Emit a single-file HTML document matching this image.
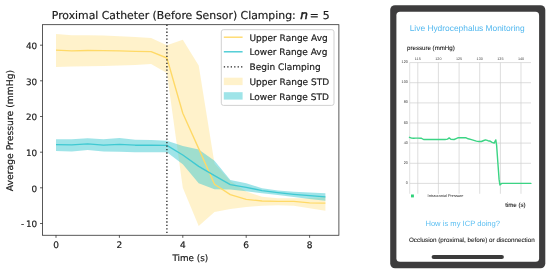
<!DOCTYPE html>
<html><head><meta charset="utf-8"><title>Hydrocephalus monitoring figure</title>
<style>
html,body{margin:0;padding:0;background:#fff;}
body{width:550px;height:274px;position:relative;overflow:hidden;filter:blur(0.35px);font-family:"Liberation Sans",sans-serif;}
svg text{white-space:pre;text-rendering:geometricPrecision;}
#chart text{stroke:#1a1a1a;stroke-width:0.18px;}
#phone text.k{stroke:#222;stroke-width:0.1px;}
#phone text.b{stroke:#4db5ee;stroke-width:0.12px;}
</style></head><body>
<svg id="chart" width="350" height="274" viewBox="0 0 350 274" style="position:absolute;left:0;top:0">
<g font-family="'DejaVu Sans', 'Liberation Sans', sans-serif" fill="#1a1a1a">
<polygon points="56.0,34.1 71.8,35.2 87.7,35.2 103.5,35.5 119.4,36.3 135.2,37.0 151.1,38.0 166.9,45.2 182.8,39.8 198.7,65.5 214.5,163.6 230.3,181.1 246.2,191.4 262.0,196.8 277.9,198.2 293.8,198.2 309.6,198.2 325.4,196.8 325.4,210.7 309.6,208.2 293.8,205.7 277.9,205.3 262.0,205.7 246.2,207.1 230.3,208.9 214.5,212.1 198.7,226.0 182.8,187.8 166.9,73.0 151.1,64.1 135.2,65.1 119.4,65.5 103.5,65.9 87.7,66.2 71.8,66.6 56.0,66.9" fill="#FFD966" fill-opacity="0.34"/>
<polygon points="56.0,139.2 71.8,139.3 87.7,138.3 103.5,139.3 119.4,137.9 135.2,139.7 151.1,140.1 166.9,140.8 182.8,146.1 198.7,149.5 214.5,160.7 230.3,180.0 246.2,183.2 262.0,188.2 277.9,190.6 293.8,191.8 309.6,192.5 325.4,193.2 325.4,200.7 309.6,198.9 293.8,197.1 277.9,195.0 262.0,193.2 246.2,191.2 230.3,189.6 214.5,189.3 198.7,183.2 182.8,164.3 166.9,152.2 151.1,152.2 135.2,152.2 119.4,151.8 103.5,151.5 87.7,150.0 71.8,151.5 56.0,151.1" fill="#3FC9D2" fill-opacity="0.5"/>
<polyline points="56.0,50.2 71.8,50.9 87.7,50.5 103.5,50.7 119.4,50.9 135.2,51.4 151.1,51.6 166.9,58.0 182.8,113.3 198.7,148.6 214.5,184.3 230.3,194.6 246.2,199.3 262.0,201.0 277.9,201.4 293.8,201.4 309.6,202.8 325.4,203.2" fill="none" stroke="#FFD966" stroke-width="1.35" stroke-linejoin="round"/>
<polyline points="56.0,144.7 71.8,144.9 87.7,143.9 103.5,145.2 119.4,144.4 135.2,145.2 151.1,145.2 166.9,145.4 182.8,155.0 198.7,166.4 214.5,175.7 230.3,184.6 246.2,187.3 262.0,190.6 277.9,192.6 293.8,194.3 309.6,195.7 325.4,196.8" fill="none" stroke="#3FC9D2" stroke-width="1.35" stroke-linejoin="round"/>
<line x1="166.9" y1="24.7" x2="166.9" y2="235.25" stroke="#222" stroke-width="1.3" stroke-dasharray="1.3 2.15"/>
<rect x="42.6" y="24.7" width="296.29999999999995" height="210.55" fill="none" stroke="#222" stroke-width="0.75"/>
<line x1="40.0" y1="45.2" x2="42.6" y2="45.2" stroke="#222" stroke-width="0.72"/>
<text x="37.1" y="48.9" font-size="8.8" text-anchor="end">40</text>
<line x1="40.0" y1="80.8" x2="42.6" y2="80.8" stroke="#222" stroke-width="0.72"/>
<text x="37.1" y="84.6" font-size="8.8" text-anchor="end">30</text>
<line x1="40.0" y1="116.5" x2="42.6" y2="116.5" stroke="#222" stroke-width="0.72"/>
<text x="37.1" y="120.3" font-size="8.8" text-anchor="end">20</text>
<line x1="40.0" y1="152.2" x2="42.6" y2="152.2" stroke="#222" stroke-width="0.72"/>
<text x="37.1" y="155.9" font-size="8.8" text-anchor="end">10</text>
<line x1="40.0" y1="187.8" x2="42.6" y2="187.8" stroke="#222" stroke-width="0.72"/>
<text x="37.1" y="191.6" font-size="8.8" text-anchor="end">0</text>
<line x1="40.0" y1="223.5" x2="42.6" y2="223.5" stroke="#222" stroke-width="0.72"/>
<text x="37.1" y="227.3" font-size="8.8" text-anchor="end">-<tspan dx="1.6">10</tspan></text>
<line x1="56.0" y1="235.25" x2="56.0" y2="237.85" stroke="#222" stroke-width="0.72"/>
<text x="56.0" y="247.8" font-size="9" text-anchor="middle">0</text>
<line x1="119.4" y1="235.25" x2="119.4" y2="237.85" stroke="#222" stroke-width="0.72"/>
<text x="119.4" y="247.8" font-size="9" text-anchor="middle">2</text>
<line x1="182.8" y1="235.25" x2="182.8" y2="237.85" stroke="#222" stroke-width="0.72"/>
<text x="182.8" y="247.8" font-size="9" text-anchor="middle">4</text>
<line x1="246.2" y1="235.25" x2="246.2" y2="237.85" stroke="#222" stroke-width="0.72"/>
<text x="246.2" y="247.8" font-size="9" text-anchor="middle">6</text>
<line x1="309.6" y1="235.25" x2="309.6" y2="237.85" stroke="#222" stroke-width="0.72"/>
<text x="309.6" y="247.8" font-size="9" text-anchor="middle">8</text>
<text x="190.3" y="260.6" font-size="8.8" text-anchor="middle">Time (s)</text>
<text transform="translate(12.5,130.5) rotate(-90)" font-size="9.25" text-anchor="middle">Average Pressure (mmHg)</text>
<text x="51.8" y="19.3" font-size="10.85">Proximal Catheter (Before Sensor) Clamping: <tspan font-style="italic" font-size="12.2" dx="1.2" style="stroke-width:0.5px">n</tspan><tspan dx="-1.8"> =</tspan><tspan dx="0.6"> 5</tspan></text>
<rect x="221.3" y="29.7" width="112.7" height="75.7" rx="2.2" fill="#fff" fill-opacity="0.8" stroke="#ccc" stroke-width="0.9"/>
<line x1="223.8" y1="37.199999999999996" x2="242.6" y2="37.199999999999996" stroke="#FFD966" stroke-width="1.35"/>
<line x1="223.8" y1="51.8" x2="242.6" y2="51.8" stroke="#3FC9D2" stroke-width="1.35"/>
<line x1="223.8" y1="66.8" x2="242.6" y2="66.8" stroke="#222" stroke-width="1.3" stroke-dasharray="1.3 2.15"/>
<rect x="223.8" y="77.70" width="18.8" height="7.4" fill="#FFD966" fill-opacity="0.34"/>
<rect x="223.8" y="92.20" width="18.8" height="7.4" fill="#3FC9D2" fill-opacity="0.5"/>
<text x="249.5" y="40.8" font-size="9">Upper Range Avg</text>
<text x="249.5" y="55.4" font-size="9">Lower Range Avg</text>
<text x="249.5" y="70.1" font-size="9">Begin Clamping</text>
<text x="249.5" y="84.75" font-size="9">Upper Range STD</text>
<text x="249.5" y="99.6" font-size="9">Lower Range STD</text>
</g></svg>
<svg id="phone" width="200" height="274" viewBox="350 0 200 274" style="position:absolute;left:350px;top:0">
<g font-family="'Liberation Sans', Arial, sans-serif">
<rect x="390.2" y="5.2" width="155.1" height="263.1" rx="4.8" fill="#3d3c3d"/>
<rect x="396.4" y="11.8" width="142.7" height="250" rx="3.6" fill="#fff"/>
<text x="467.2" y="30.7" font-size="8.4" text-anchor="middle" fill="#52b8ef">Live Hydrocephalus Monitoring</text>
<text x="407" y="50.3" class="k" font-size="6.15" fill="#222">pressure (mmHg)</text>
<line x1="409.7" y1="62.6" x2="531.0" y2="62.6" stroke="#d0d0d0" stroke-width="0.7"/>
<text class="tk" x="407.9" y="63.1" font-size="3.8" text-anchor="end" fill="#444">120</text>
<line x1="409.7" y1="82.7" x2="531.0" y2="82.7" stroke="#d0d0d0" stroke-width="0.7"/>
<text class="tk" x="407.9" y="83.2" font-size="3.8" text-anchor="end" fill="#444">100</text>
<line x1="409.7" y1="102.9" x2="531.0" y2="102.9" stroke="#d0d0d0" stroke-width="0.7"/>
<text class="tk" x="407.9" y="103.4" font-size="3.8" text-anchor="end" fill="#444">80</text>
<line x1="409.7" y1="123.0" x2="531.0" y2="123.0" stroke="#d0d0d0" stroke-width="0.7"/>
<text class="tk" x="407.9" y="123.5" font-size="3.8" text-anchor="end" fill="#444">60</text>
<line x1="409.7" y1="143.1" x2="531.0" y2="143.1" stroke="#d0d0d0" stroke-width="0.7"/>
<text class="tk" x="407.9" y="143.6" font-size="3.8" text-anchor="end" fill="#444">40</text>
<line x1="409.7" y1="163.3" x2="531.0" y2="163.3" stroke="#d0d0d0" stroke-width="0.7"/>
<text class="tk" x="407.9" y="163.8" font-size="3.8" text-anchor="end" fill="#444">20</text>
<line x1="409.7" y1="183.4" x2="531.0" y2="183.4" stroke="#d0d0d0" stroke-width="0.7"/>
<text class="tk" x="407.9" y="183.9" font-size="3.8" text-anchor="end" fill="#444">0</text>
<line x1="417.8" y1="62.6" x2="417.8" y2="193.8" stroke="#d0d0d0" stroke-width="0.7"/>
<text x="417.8" y="59.85" font-size="3.7" text-anchor="middle" fill="#444">115</text>
<line x1="438.4" y1="62.6" x2="438.4" y2="193.8" stroke="#d0d0d0" stroke-width="0.7"/>
<text x="438.4" y="59.85" font-size="3.7" text-anchor="middle" fill="#444">120</text>
<line x1="459.1" y1="62.6" x2="459.1" y2="193.8" stroke="#d0d0d0" stroke-width="0.7"/>
<text x="459.1" y="59.85" font-size="3.7" text-anchor="middle" fill="#444">125</text>
<line x1="479.7" y1="62.6" x2="479.7" y2="193.8" stroke="#d0d0d0" stroke-width="0.7"/>
<text x="479.7" y="59.85" font-size="3.7" text-anchor="middle" fill="#444">130</text>
<line x1="500.4" y1="62.6" x2="500.4" y2="193.8" stroke="#d0d0d0" stroke-width="0.7"/>
<text x="500.4" y="59.85" font-size="3.7" text-anchor="middle" fill="#444">135</text>
<line x1="521.0" y1="62.6" x2="521.0" y2="193.8" stroke="#d0d0d0" stroke-width="0.7"/>
<text x="521.0" y="59.85" font-size="3.7" text-anchor="middle" fill="#444">140</text>
<line x1="409.7" y1="62.6" x2="409.7" y2="193.8" stroke="#cfcfcf" stroke-width="0.6"/>
<polyline points="409.5,137.3 411.6,138.1 413.7,138.2 415.7,138.1 417.8,138.1 421.1,138.2 423.6,139.5 430.2,139.5 438.4,139.4 445.0,139.5 447.5,139.1 449.2,137.9 450.8,139.3 454.1,139.5 456.2,138.6 458.3,137.7 462.4,137.8 465.7,137.6 468.2,138.8 471.5,139.6 473.9,140.3 476.4,141.1 478.9,141.5 481.4,141.5 483.8,140.5 485.5,139.9 488.0,140.7 490.5,141.3 492.1,142.3 494.2,143.1 495.8,139.9 496.6,145.1 497.9,163.3 499.1,179.4 499.9,185.0 501.6,183.4 508.6,183.4 525.1,183.4 530.9,183.4" fill="none" stroke="#3bd484" stroke-width="1.4" stroke-linejoin="round" stroke-linecap="round"/>
<rect x="411" y="194.5" width="2.9" height="2.9" fill="#2fd27a"/>
<text x="427.6" y="197.4" font-size="3.9" fill="#222">Intracranial Pressure</text>
<text x="505.2" y="206.6" class="k" font-size="6.15" fill="#222">time (s)</text>
<text x="462.7" y="226.4" font-size="7.6" text-anchor="middle" fill="#5cbff2">How is my ICP doing?</text>
<text x="409" y="241.5" class="k" font-size="6.27" fill="#222">Occlusion (proximal, before) or disconnection</text>
<rect x="431.6" y="254.9" width="72.3" height="4.2" rx="2.1" fill="#3b3b3b"/>
</g></svg>
</body></html>
